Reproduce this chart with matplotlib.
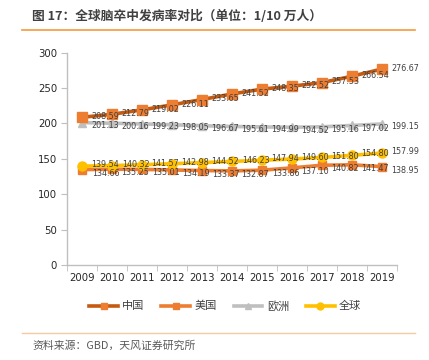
import matplotlib
matplotlib.use("Agg")
import matplotlib.pyplot as plt
from matplotlib.lines import Line2D

plt.rcParams['font.family'] = ['Noto Sans CJK SC', 'DejaVu Sans']

years = ['2009', '2010', '2011', '2012', '2013', '2014', '2015', '2016', '2017', '2018', '2019']
china = [208.59, 212.79, 219.02, 226.11, 233.65, 241.52, 248.35, 252.52, 257.53, 266.54, 276.67]
usa = [134.66, 135.25, 135.01, 134.19, 133.37, 132.87, 133.86, 137.10, 140.82, 141.47, 138.95]
europe = [201.13, 200.16, 199.23, 198.05, 196.67, 195.61, 194.99, 194.52, 195.16, 197.02, 199.15]
world = [139.54, 140.32, 141.57, 142.98, 144.52, 146.23, 147.94, 149.60, 151.80, 154.80, 157.99]
names = ['中国', '美国', '欧洲', '全球']

fig = plt.figure(figsize=(4.29, 3.6), dpi=100)
ax = fig.add_axes([0.156, 0.264, 0.769, 0.59])

x = list(range(len(years)))

# (数据, 线色, 点色, 标记, 标记大小)
series = [
    (europe, '#BFBFBF', '#BFBFBF', '^', 6),
    (usa, '#ED7D31', '#ED7D31', 's', 6),
    (world, '#FFC000', '#FFC000', 'o', 6.5),
    (china, '#C55A11', '#ED7D31', 's', 6.5),
]
for vals, lc, mc, mk, ms in series:
    ax.plot(x, vals, color=lc, lw=2.6, marker=mk, markersize=ms,
            markerfacecolor=mc, markeredgecolor=mc, zorder=3)

# 数据标签，稍微错开避免重叠
for vals, dy in [(china, 0.5), (usa, -2.5), (europe, -2), (world, 1)]:
    for i, v in enumerate(vals):
        ax.annotate('%.2f' % v, (i, v), xytext=(17, dy), textcoords='offset points',
                    ha='center', va='center', fontsize=5.8, color='#404040',
                    family='DejaVu Sans', zorder=5)

ax.set_xlim(-0.5, 10.5)
ax.set_ylim(0, 300)
ax.set_yticks(range(0, 301, 50))
ax.set_xticks(x)
ax.set_xticklabels(years)
ax.set_xticks([i - 0.5 for i in range(12)], minor=True)
ax.tick_params(axis='x', which='major', length=0, pad=6, labelsize=7.3, colors='#262626')
ax.tick_params(axis='x', which='minor', length=4, color='#BFBFBF')
ax.tick_params(axis='y', length=4, color='#BFBFBF', labelsize=7.3, labelcolor='#262626', pad=3)
for t in ax.get_xticklabels() + ax.get_yticklabels():
    t.set_family('DejaVu Sans')
for s in ['top', 'right']:
    ax.spines[s].set_visible(False)
for s in ['left', 'bottom']:
    ax.spines[s].set_color('#BFBFBF')
    ax.spines[s].set_linewidth(1.0)

handles = [
    Line2D([], [], color='#C55A11', lw=2.6, marker='s', markersize=5,
           markerfacecolor='#ED7D31', markeredgecolor='#ED7D31'),
    Line2D([], [], color='#ED7D31', lw=2.6, marker='s', markersize=5,
           markerfacecolor='#ED7D31', markeredgecolor='#ED7D31'),
    Line2D([], [], color='#BFBFBF', lw=2.6, marker='^', markersize=5,
           markerfacecolor='#BFBFBF', markeredgecolor='#BFBFBF'),
    Line2D([], [], color='#FFC000', lw=2.6, marker='o', markersize=5,
           markerfacecolor='#FFC000', markeredgecolor='#FFC000'),
]
fig.legend(handles, names, loc='center', bbox_to_anchor=(0.525, 0.15), ncol=4,
           frameon=False, fontsize=8, handlelength=2.6, columnspacing=1.5,
           handletextpad=0.4, labelcolor='#404040')

fig.text(0.075, 0.955, '图 17：全球脑卒中发病率对比（单位：1/10 万人）', fontsize=9.2,
         color='#404040', weight='bold', va='center', ha='left')
fig.add_artist(Line2D([0.052, 0.967], [0.917, 0.917], color='#F39A3C', lw=1.2))
fig.add_artist(Line2D([0.052, 0.967], [0.075, 0.075], color='#F8C9A0', lw=1.0))
fig.text(0.075, 0.04, '资料来源：GBD，天风证券研究所', fontsize=7.8,
         color='#595959', va='center', ha='left')

fig.savefig('out.png', dpi=100)
